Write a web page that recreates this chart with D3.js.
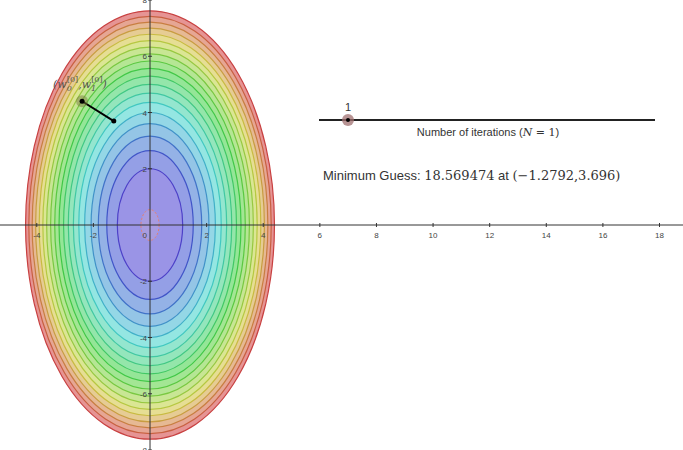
<!DOCTYPE html>
<html><head><meta charset="utf-8">
<script src="https://cdn.jsdelivr.net/npm/d3@7"></script>
<style>body{margin:0;background:#fff}svg{display:block}</style>
</head><body>
<script>
// f(w0,w1) = 3*w0^2 + w1^2
var levels = [4, 7, 10, 13, 16, 19, 22, 25, 28, 31, 34, 37, 40, 43, 46, 49, 52, 55, 58];
var xTicks = [-4, -2, 2, 4, 6, 8, 10, 12, 14, 16, 18];
var yTicks = [-8, -6, -4, -2, 2, 4, 6, 8];
var w0 = [-2.4, 4.4];
var w1 = [-1.2792, 3.696];

var W = 683, H = 450;
var x = d3.scaleLinear().domain([-5.3, 18.83]).range([0, W]);
var y = d3.scaleLinear().domain([-8.0, 8.0]).range([450, 0]);
var svg = d3.select("body").append("svg").attr("width", W).attr("height", H)
  .style("font-family", "Liberation Sans, Arial, sans-serif");

var hue = d3.scaleLinear().domain([4, 58]).range([245, 0]);
var g = svg.append("g");
levels.slice().reverse().forEach(function(L) {
  g.append("ellipse")
    .attr("cx", x(0)).attr("cy", y(0))
    .attr("rx", x(Math.sqrt(L / 3)) - x(0))
    .attr("ry", y(0) - y(Math.sqrt(L)))
    .attr("fill", d3.hsl(hue(L), 0.62, 0.74))
    .attr("stroke", d3.hsl(hue(L), 0.55, 0.52))
    .attr("stroke-width", 1.2);
});
// innermost dashed contour
g.append("ellipse").attr("cx", x(0)).attr("cy", y(0))
  .attr("rx", x(Math.sqrt(0.3 / 3)) - x(0) + 0.1).attr("ry", y(0) - y(Math.sqrt(0.3)))
  .attr("fill", "#a89ce0").attr("stroke", "#e8806a").attr("stroke-dasharray", "2,2");

// axes
var ax = svg.append("g").attr("stroke", "#333").attr("stroke-width", 1);
ax.append("line").attr("x1", 0).attr("x2", W).attr("y1", y(0)).attr("y2", y(0));
ax.append("line").attr("x1", x(0)).attr("x2", x(0)).attr("y1", 0).attr("y2", H);
xTicks.forEach(function(t) {
  ax.append("line").attr("x1", x(t)).attr("x2", x(t)).attr("y1", y(0) - 2).attr("y2", y(0) + 2);
  svg.append("text").attr("x", x(t)).attr("y", y(0) + 13).attr("text-anchor", "middle")
    .attr("font-size", 8).attr("fill", "#444").text(t < 0 ? "-" + (-t) : t);
});
yTicks.forEach(function(t) {
  ax.append("line").attr("x1", x(0) - 2).attr("x2", x(0) + 2).attr("y1", y(t)).attr("y2", y(t));
  svg.append("text").attr("x", x(0) - 3).attr("y", y(t) + 3).attr("text-anchor", "end")
    .attr("font-size", 8).attr("fill", "#444").text(t < 0 ? "-" + (-t) : t);
});
svg.append("text").attr("x", x(0) - 3).attr("y", y(0) + 13).attr("text-anchor", "end")
  .attr("font-size", 8).attr("fill", "#444").text("0");

// gradient step
svg.append("line").attr("x1", x(w0[0])).attr("y1", y(w0[1])).attr("x2", x(w1[0])).attr("y2", y(w1[1]))
  .attr("stroke", "#000").attr("stroke-width", 2);
svg.append("circle").attr("cx", x(w0[0])).attr("cy", y(w0[1])).attr("r", 6).attr("fill", "#7a7a40").attr("opacity", 0.5);
svg.append("circle").attr("cx", x(w0[0])).attr("cy", y(w0[1])).attr("r", 2.5).attr("fill", "#000");
svg.append("circle").attr("cx", x(w1[0])).attr("cy", y(w1[1])).attr("r", 2.5).attr("fill", "#000");
var lab = svg.append("text").attr("x", 53).attr("y", 88).attr("font-family", "DejaVu Serif, serif")
  .attr("font-size", 11).attr("fill", "#555").attr("font-style", "italic");
lab.append("tspan").text("(w");
lab.append("tspan").attr("font-size", 8).attr("dy", 3).text("0");
lab.append("tspan").attr("font-size", 8).attr("font-style", "normal").attr("dx", -5).attr("dy", -9).text("[0]");
lab.append("tspan").attr("dy", 6).text(",w");
lab.append("tspan").attr("font-size", 8).attr("dy", 3).text("1");
lab.append("tspan").attr("font-size", 8).attr("font-style", "normal").attr("dx", -5).attr("dy", -9).text("[0]");
lab.append("tspan").attr("dy", 6).text(")");

// slider
svg.append("line").attr("x1", 319).attr("x2", 655).attr("y1", 120).attr("y2", 120)
  .attr("stroke", "#222").attr("stroke-width", 2);
svg.append("circle").attr("cx", 348).attr("cy", 120).attr("r", 6).attr("fill", "#a07070").attr("opacity", 0.75);
svg.append("circle").attr("cx", 348).attr("cy", 120).attr("r", 2).attr("fill", "#000");
svg.append("text").attr("x", 348).attr("y", 111).attr("text-anchor", "middle").attr("font-size", 11).attr("fill", "#333").text("1");
var nt = svg.append("text").attr("x", 488).attr("y", 136).attr("text-anchor", "middle").attr("font-size", 11).attr("fill", "#333");
nt.append("tspan").text("Number of iterations (");
nt.append("tspan").attr("font-family", "DejaVu Serif, serif").attr("font-style", "italic").text("N");
nt.append("tspan").attr("font-family", "DejaVu Serif, serif").text(" = 1");
nt.append("tspan").text(")");
var mg = svg.append("text").attr("x", 323).attr("y", 180).attr("font-size", 13).attr("fill", "#333");
mg.append("tspan").text("Minimum Guess: ");
mg.append("tspan").attr("font-family", "DejaVu Serif, serif").text("18.569474");
mg.append("tspan").text(" at ");
mg.append("tspan").attr("font-family", "DejaVu Serif, serif").text("(\u22121.2792,3.696)");
</script>
</body></html>
